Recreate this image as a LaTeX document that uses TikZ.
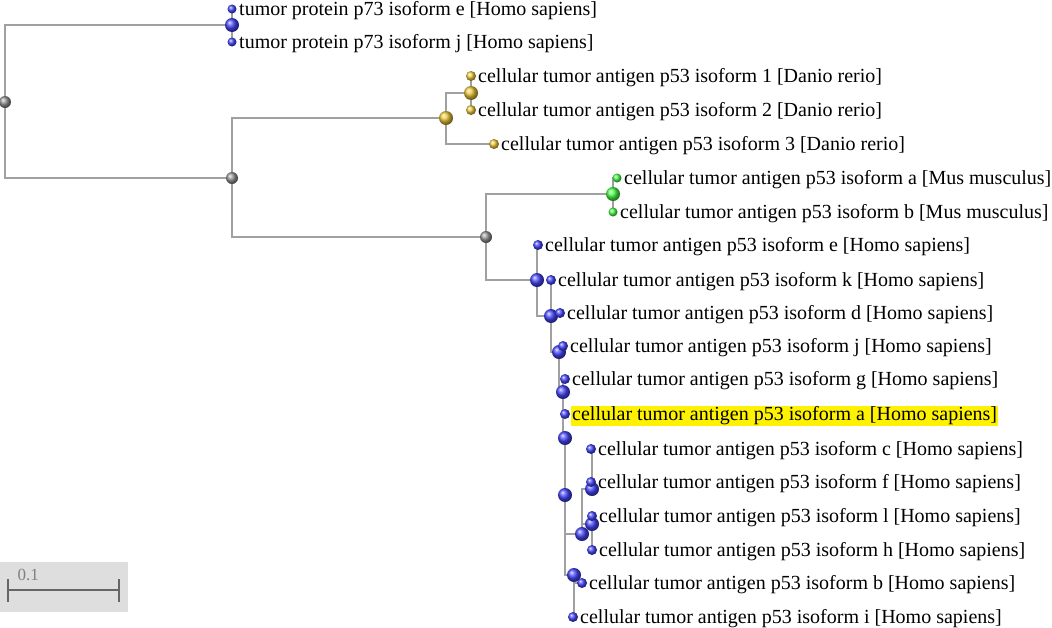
\documentclass[tikz,border=0pt]{standalone}
\usepackage{fontspec}
\setmainfont{Liberation Serif}
\definecolor{bl}{RGB}{70,70,255}
\definecolor{gd}{RGB}{235,200,60}
\definecolor{gr}{RGB}{70,255,70}
\definecolor{gy}{RGB}{150,150,150}
\definecolor{ln}{RGB}{160,160,160}
\begin{document}
\begin{tikzpicture}[x=1pt,y=-1pt,
  edge/.style={draw=ln,line width=1.5pt},
  lab/.style={anchor=west,inner sep=1pt,yshift=-2,font=\fontsize{20}{22}\selectfont},
  pt/.style={inner sep=0pt,minimum size=0pt}]
\useasboundingbox (0,0) rectangle (1052,627);
% scale bar
\fill[black!13] (0,562) rectangle (128,612);
\draw[black!60,line width=1.5pt] (8,590) -- (119,590) (8,579) -- (8,602) (119,579) -- (119,602);
\node[anchor=west,text=black!50,font=\fontsize{17}{18}\selectfont] (sc) at (14,575) {0.1};
% internal nodes and leaves
\foreach \n/\x/\y in {root/5/102,p73/232/25,n1/232/178,dan/446/118,d12/471/93,n2/486/237,mus/613/194,
 H1/537/280,H2/551/316,H3/559/352,H4/563/392,H5/565/438,H6/565/495,H7/574/575,H8/582/534,H9/592/489,H10/592/524,
 pe/232/9,pj/232/42,d1/471/76,d2/471/110,d3/494/144,ma/617/178,mb/613/212,he/538/245,hk/551/280,hd/560/313,
 hj/563/346,hg/565/379,ha/565/414,hc/591/449,hf/591/482,hl/592/516,hh/592/550,hb/582/583,hi/573/617}
  \coordinate (\n) at (\x,\y);
\foreach \a/\b in {root/p73,root/n1,p73/pe,p73/pj,n1/dan,n1/n2,dan/d12,dan/d3,d12/d1,d12/d2,n2/mus,n2/H1,
 mus/ma,mus/mb,H1/he,H1/H2,H2/hk,H2/hd,H2/H3,H3/hj,H3/H4,H4/hg,H4/ha,H4/H5,H5/H6,H6/H7,H6/H8,H7/hb,H7/hi,
 H8/H9,H8/H10,H9/hc,H9/hf,H10/hl,H10/hh}
  \draw[edge] (\a) |- (\b);
% balls
\foreach \n/\r/\c in {root/6/gy,n1/6/gy,n2/6/gy,p73/7/bl,pe/4.5/bl,pj/4.5/bl,dan/7/gd,d12/7/gd,d1/5/gd,d2/5/gd,d3/5/gd,
 mus/7/gr,ma/4.5/gr,mb/4.5/gr,H1/7/bl,H2/7/bl,H3/7/bl,H4/7/bl,H5/7/bl,H6/7/bl,H7/7/bl,H8/7/bl,H9/7/bl,H10/7/bl,
 he/5/bl,hk/5/bl,hd/5/bl,hj/5/bl,hg/5/bl,ha/5/bl,hc/5/bl,hf/5/bl,hl/5/bl,hh/5/bl,hb/5/bl,hi/5/bl}
  \shade[ball color=\c] (\n) circle (\r);
% labels
\node[lab] (lpe) at ([xshift=6]pe) {tumor protein p73 isoform e [Homo sapiens]};
\node[lab] (lpj) at ([xshift=6]pj) {tumor protein p73 isoform j [Homo sapiens]};
\node[lab] (ld1) at ([xshift=6]d1) {cellular tumor antigen p53 isoform 1 [Danio rerio]};
\node[lab] (ld2) at ([xshift=6]d2) {cellular tumor antigen p53 isoform 2 [Danio rerio]};
\node[lab] (ld3) at ([xshift=6]d3) {cellular tumor antigen p53 isoform 3 [Danio rerio]};
\node[lab] (lma) at ([xshift=6]ma) {cellular tumor antigen p53 isoform a [Mus musculus]};
\node[lab] (lmb) at ([xshift=6]mb) {cellular tumor antigen p53 isoform b [Mus musculus]};
\node[lab] (lhe) at ([xshift=6]he) {cellular tumor antigen p53 isoform e [Homo sapiens]};
\node[lab] (lhk) at ([xshift=6]hk) {cellular tumor antigen p53 isoform k [Homo sapiens]};
\node[lab] (lhd) at ([xshift=6]hd) {cellular tumor antigen p53 isoform d [Homo sapiens]};
\node[lab] (lhj) at ([xshift=6]hj) {cellular tumor antigen p53 isoform j [Homo sapiens]};
\node[lab] (lhg) at ([xshift=6]hg) {cellular tumor antigen p53 isoform g [Homo sapiens]};
\node[lab,fill=yellow] (lha) at ([xshift=6]ha) {cellular tumor antigen p53 isoform a [Homo sapiens]};
\node[lab] (lhc) at ([xshift=6]hc) {cellular tumor antigen p53 isoform c [Homo sapiens]};
\node[lab] (lhf) at ([xshift=6]hf) {cellular tumor antigen p53 isoform f [Homo sapiens]};
\node[lab] (lhl) at ([xshift=6]hl) {cellular tumor antigen p53 isoform l [Homo sapiens]};
\node[lab] (lhh) at ([xshift=6]hh) {cellular tumor antigen p53 isoform h [Homo sapiens]};
\node[lab] (lhb) at ([xshift=6]hb) {cellular tumor antigen p53 isoform b [Homo sapiens]};
\node[lab] (lhi) at ([xshift=6]hi) {cellular tumor antigen p53 isoform i [Homo sapiens]};
\end{tikzpicture}
\end{document}
